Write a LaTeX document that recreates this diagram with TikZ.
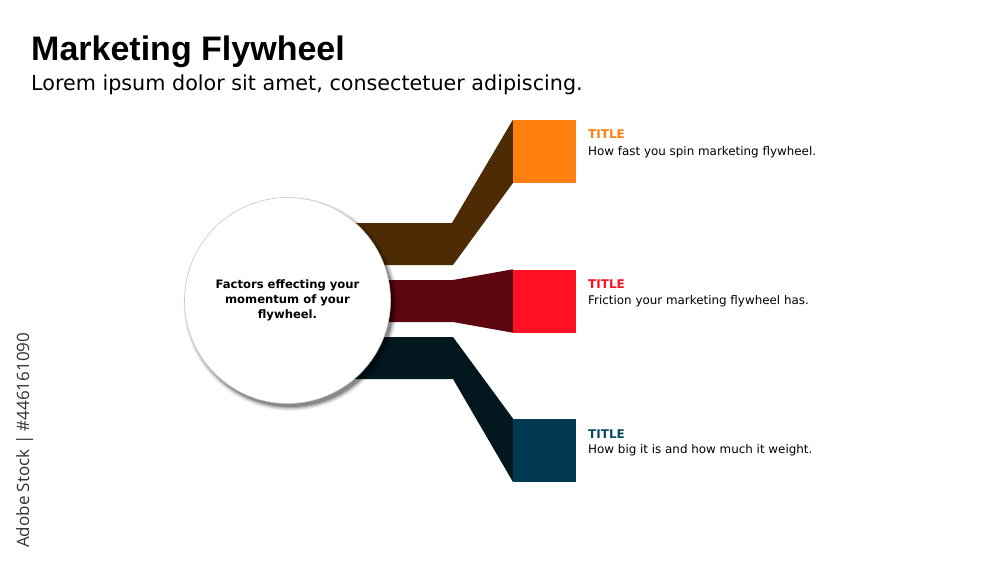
\documentclass[tikz,border=0pt]{standalone}
\usepackage{fontspec}
\setmainfont{DejaVu Sans}
\newfontfamily\headf{Liberation Sans}
\newfontfamily\markf{Open Sans}
\definecolor{orangeC}{HTML}{FF7F0E}
\definecolor{brownC}{HTML}{4D2C05}
\definecolor{redC}{HTML}{FF1023}
\definecolor{maroonC}{HTML}{5C0710}
\definecolor{navyC}{HTML}{023A52}
\definecolor{darknavyC}{HTML}{03171F}
\definecolor{navyT}{HTML}{0A4A60}
\tikzset{
  sqbox/.style={rectangle, minimum width=63pt, minimum height=63pt, inner sep=0pt},
  ttl/.style={anchor=base west, inner sep=0pt, font=\bfseries\fontsize{12}{14}\selectfont},
  desc/.style={anchor=base west, inner sep=0pt, font=\fontsize{11.9}{14}\selectfont, text=black},
}
\begin{document}
\begin{tikzpicture}[x=1pt,y=-1pt]
\useasboundingbox (0,0) rectangle (1000,563);
\fill[white] (0,0) rectangle (1000,563);

\node[anchor=base west, inner sep=0pt, font=\headf\bfseries\fontsize{34}{40}\selectfont] (title) at (31,60) {Marketing Flywheel};
\node[anchor=base west, inner sep=0pt, font=\fontsize{20.7}{24}\selectfont] (sub) at (31,90) {Lorem ipsum dolor sit amet, consectetuer adipiscing.};

\node[sqbox, fill=orangeC] (s1) at (544.5,151.5) {};
\node[sqbox, fill=redC] (s2) at (544.5,301) {};
\node[sqbox, fill=navyC] (s3) at (544.5,450) {};

\fill[brownC] (350,223) -- (452,223) -- (s1.north west) -- (s1.south west) -- (453,265) -- (350,265) -- cycle;
\fill[maroonC] (350,280) -- (453,280) -- (s2.north west) -- (s2.south west) -- (453,322) -- (350,322) -- cycle;
\fill[darknavyC] (350,337) -- (453,337) -- (s3.north west) -- (s3.south west) -- (453,379) -- (350,379) -- cycle;

\foreach \r/\o in {107/0.05,106/0.07,105/0.1,104/0.14,103/0.2}
  \fill[black, opacity=\o] (290.5,304) circle[radius=\r pt];
\node[circle, fill=white, draw=black!22, line width=0.6pt, minimum size=206pt, inner sep=0pt, align=center,
      font=\bfseries\fontsize{11.6}{15}\selectfont] (hub) at (287.5,300.5)
      {Factors effecting your\\momentum of your\\flywheel.};

\node[ttl, text=orangeC] (t1) at (588,138) {TITLE};
\node[desc] (d1) at (588,155) {How fast you spin marketing flywheel.};
\node[ttl, text=redC] (t2) at (588,288) {TITLE};
\node[desc] (d2) at (588,304) {Friction your marketing flywheel has.};
\node[ttl, text=navyT] (t3) at (588,438) {TITLE};
\node[desc] (d3) at (588,453) {How big it is and how much it weight.};

\node[rotate=90, anchor=base west, inner sep=0pt, font=\markf\fontsize{17}{20}\selectfont, text=black!80] (mark) at (29,548) {Adobe Stock | \#446161090};
\end{tikzpicture}
\end{document}
